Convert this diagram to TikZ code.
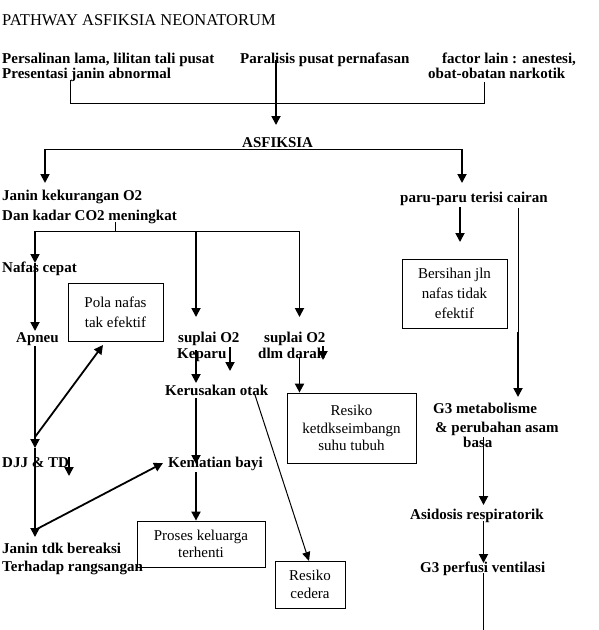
\documentclass[tikz,border=0pt]{standalone}
\usepackage{fontspec}
\setmainfont{Liberation Serif}
\usetikzlibrary{arrows.meta}
\begin{document}
\begin{tikzpicture}[x=1pt,y=-1pt,
  lbl/.style={anchor=base west,inner sep=0pt,font=\fontsize{15}{18}\selectfont\bfseries},
  ttl/.style={anchor=base west,inner sep=0pt,font=\fontsize{16.5}{18}\selectfont},
  box/.style={draw,line width=0.8pt,align=center,inner sep=0pt,font=\fontsize{15}{17.5}\selectfont},
  arr/.style={line width=1.8pt,-{Triangle[width=9pt,length=9pt]}},
  thk/.style={line width=1.8pt},
  thn/.style={line width=0.8pt},
  tarr/.style={line width=1pt,-{Triangle[width=8pt,length=9pt]}}
]
\useasboundingbox (0,0) rectangle (598,630);
\fill[white] (0,0) rectangle (598,630);

% ---------- texts ----------
\node[ttl] (title) at (2,25) {PATHWAY ASFIKSIA NEONATORUM};
\node[lbl] (c1a) at (2,63) {Persalinan lama, lilitan tali pusat};
\node[lbl] (c1b) at (2,78) {Presentasi janin abnormal};
\node[lbl] (c2) at (240,63) {Paralisis pusat pernafasan};
\node[lbl] (c3a) at (442,63) {factor lain :  anestesi,};
\node[lbl] (c3b) at (428,78) {obat-obatan narkotik};
\node[lbl] (asf) at (242,147) {ASFIKSIA};
\node[lbl] (jka) at (2,200) {Janin kekurangan O2};
\node[lbl] (jkb) at (2,220) {Dan kadar CO2 meningkat};
\node[lbl] (paru) at (400,202) {paru-paru terisi cairan};
\node[lbl] (nafas) at (2,272) {Nafas cepat};
\node[lbl] (apneu) at (16,342) {Apneu};
\node[lbl] (s1a) at (178,342) {suplai O2};
\node[lbl] (s1b) at (177,358) {Keparu};
\node[lbl] (s2a) at (264,342) {suplai O2};
\node[lbl] (s2b) at (258,358) {dlm darah};
\node[lbl] (kerus) at (165,395) {Kerusakan otak};
\node[lbl] (djj) at (2,467) {DJJ \& TD};
\node[lbl] (kemat) at (168,467) {Kematian bayi};
\node[lbl] (jta) at (2,553) {Janin tdk bereaksi};
\node[lbl] (jtb) at (2,571) {Terhadap rangsangan};
\node[lbl] (g3a) at (433,413) {G3 metabolisme};
\node[lbl] (g3b) at (435,432) {\& perubahan asam};
\node[lbl] (g3c) at (463,447) {basa};
\node[lbl] (asid) at (410,519) {Asidosis respiratorik};
\node[lbl] (perf) at (420,572) {G3 perfusi ventilasi};

% ---------- boxes ----------
\node[box,minimum width=95pt,minimum height=58pt,font=\fontsize{15}{20}\selectfont] (pola) at (115.5,312) {Pola nafas\\tak efektif};
\node[box,minimum width=105pt,minimum height=69pt,font=\fontsize{15}{20}\selectfont] (bers) at (454.5,293.5) {Bersihan jln\\nafas tidak\\efektif};
\node[box,minimum width=129pt,minimum height=70pt] (ketdk) at (351.5,428) {Resiko\\ketdkseimbangn\\suhu tubuh};
\node[box,minimum width=128pt,minimum height=46pt] (proses) at (201,544) {Proses keluarga\\terhenti};
\node[box,minimum width=70pt,minimum height=47pt] (cedera) at (310,584.5) {Resiko\\cedera};

% ---------- junction coordinates ----------
\coordinate (p1) at (276,60);
\coordinate (p2) at (276,125);
\coordinate (b1) at (70,80);
\coordinate (b2) at (484,82);
\coordinate (h1) at (45,149);
\coordinate (h2) at (462,149);
\coordinate (j0) at (115,222);
\coordinate (ja) at (35,231);
\coordinate (jb) at (196,231);
\coordinate (jc) at (299.5,231);
\coordinate (a1) at (35,263);
\coordinate (a2) at (35,331);
\coordinate (a3) at (35,346);
\coordinate (a4) at (35,448);
\coordinate (a5) at (35,537);
\coordinate (dg1) at (35,437);
\coordinate (dg2) at (103,345);
\coordinate (dg3) at (35,530);
\coordinate (dg4) at (163,463);
\coordinate (sm1) at (69,457);
\coordinate (sm2) at (69,476);
\coordinate (k1) at (196,317);
\coordinate (k2) at (196,350);
\coordinate (k3) at (196,383);
\coordinate (k4) at (196,398);
\coordinate (k5) at (196,464);
\coordinate (k6) at (196,472);
\coordinate (kp1) at (230,347);
\coordinate (kp2) at (230,371);
\coordinate (dr1) at (323,346);
\coordinate (dr2) at (323,360);
\coordinate (d1) at (299.5,317);
\coordinate (d2) at (299.5,357);
\coordinate (kr1) at (255,395);
\coordinate (kr2) at (309,561);
\coordinate (r1) at (460,207);
\coordinate (r2) at (460,242);
\coordinate (q1) at (518,208);
\coordinate (q2) at (518,332);
\coordinate (q3) at (518,397);
\coordinate (m1) at (483.5,437);
\coordinate (m2) at (483.5,505);
\coordinate (m3) at (483.5,521);
\coordinate (m4) at (483.5,563);
\coordinate (m5) at (483.5,573);
\coordinate (m6) at (483.5,630);

% ---------- connectors ----------
\draw[arr] (p1) -- (p2);
\draw[thn] (b1) |- (b2 |- 0,103) -- (b2);
\draw[thn] (h1) -- (h2);
\draw[arr] (h1) -- (h1 |- 0,183);
\draw[arr] (h2) -- (h2 |- 0,183);
\draw[thn] (j0) -- (j0 |- ja);
\draw[thn] (ja) -- (jc);
\draw[arr] (ja) -- (a1);
\draw[arr] (a1) -- (a2);
\draw[arr] (a3) -- (a4);
\draw[arr] (a4) -- (a5);
\draw[arr] (dg1) -- (dg2);
\draw[arr] (dg3) -- (dg4);
\draw[arr] (sm1) -- (sm2);
\draw[arr] (jb) -- (k1);
\draw[arr] (k2) -- (k3);
\draw[arr] (k4) -- (k5);
\draw[arr] (k6) -- (k6 |- proses.north);
\draw[arr] (kp1) -- (kp2);
\draw[arr] (dr1) -- (dr2);
\draw[arr] (jc) -- (d1);
\draw[arr] (d2) -- (d2 |- ketdk.north);
\draw[tarr] (kr1) -- (kr2);
\draw[arr] (r1) -- (r2);
\draw[thn] (q1) -- (q2);
\draw[arr] (q2) -- (q3);
\draw[arr] (m1) -- (m2);
\draw[arr] (m3) -- (m4);
\draw[thk] (m5) -- (m6);
\end{tikzpicture}
\end{document}
